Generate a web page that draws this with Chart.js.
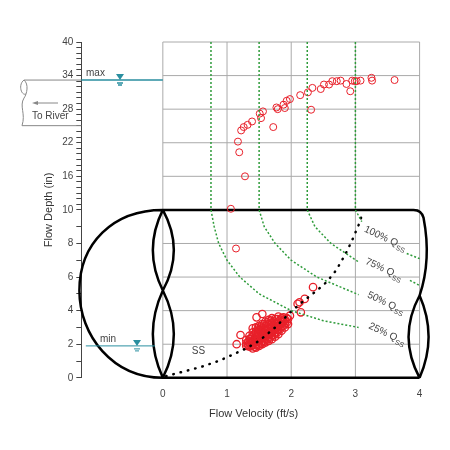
<!DOCTYPE html>
<html>
<head>
<script src="https://cdn.jsdelivr.net/npm/chart.js@4"></script>
<style>body{margin:0;background:#fff}</style>
</head>
<body>
<canvas id="c" width="450" height="450"></canvas>
<script>
// depth axis is split: 0-10 in linear, above 10 compressed by 3
const yMajor = [0, 2, 4, 6, 8, 10, 16, 22, 28, 34, 40];
const xTicks = [0, 1, 2, 3, 4];

// measured points, upper (surcharged) part
const upperV = [1.06, 1.28, 1.19, 1.17, 1.22, 1.26, 1.32, 1.39, 1.51, 1.56, 1.53, 1.72, 1.77, 1.79, 1.88, 1.90, 1.93, 1.98, 2.14, 2.26, 2.33, 2.31, 2.46, 2.51, 2.59, 2.64, 2.71, 2.77, 2.86, 2.92, 2.95, 2.99, 3.02, 3.08, 3.25, 3.26, 3.61, 1.14];
const upperD = [10.2, 16, 20.3, 22.2, 24.2, 24.8, 25.2, 25.8, 27.2, 27.6, 26.4, 24.8, 28.3, 28.0, 28.8, 28.2, 29.5, 29.8, 30.5, 31, 31.8, 27.9, 31.6, 32.4, 32.4, 33, 33, 33.1, 32.5, 31.2, 33.1, 33, 33, 33.1, 33.6, 33.1, 33.2, 7.7];
// measured points, main cluster
const clusterV = [1.15, 1.21, 1.46, 1.55, 2.10, 2.13, 2.15, 2.21, 2.34,
  1.30, 1.30, 1.30, 1.35, 1.35, 1.35, 1.35, 1.40, 1.40, 1.40, 1.40, 1.40, 1.40,
  1.45, 1.45, 1.45, 1.45, 1.45, 1.45, 1.50, 1.50, 1.50, 1.50, 1.50, 1.50,
  1.55, 1.55, 1.55, 1.55, 1.55, 1.55, 1.60, 1.60, 1.60, 1.60, 1.60, 1.60,
  1.65, 1.65, 1.65, 1.65, 1.65, 1.65, 1.70, 1.70, 1.70, 1.70, 1.70, 1.70,
  1.75, 1.75, 1.75, 1.75, 1.75, 1.80, 1.80, 1.80, 1.80, 1.80, 1.85, 1.85, 1.85, 1.85,
  1.90, 1.90, 1.90, 1.95, 1.95, 1.98,
  1.33, 1.33, 1.38, 1.38, 1.38, 1.43, 1.43, 1.43, 1.43, 1.48, 1.48, 1.48, 1.48, 1.48,
  1.53, 1.53, 1.53, 1.53, 1.53, 1.58, 1.58, 1.58, 1.58, 1.58, 1.63, 1.63, 1.63, 1.63, 1.63,
  1.68, 1.68, 1.68, 1.68, 1.68, 1.73, 1.73, 1.73, 1.73, 1.78, 1.78, 1.78, 1.78,
  1.83, 1.83, 1.83, 1.88, 1.88, 1.88, 1.93, 1.93];
const clusterD = [2.0, 2.55, 3.6, 3.8, 4.4, 4.5, 3.9, 4.7, 5.4,
  1.9, 2.05, 2.25, 1.85, 2.05, 2.3, 2.5, 1.75, 1.95, 2.2, 2.45, 2.7, 2.95,
  1.8, 2.0, 2.25, 2.5, 2.75, 3.0, 1.9, 2.1, 2.35, 2.6, 2.85, 3.1,
  2.0, 2.2, 2.45, 2.7, 2.95, 3.2, 2.1, 2.35, 2.6, 2.85, 3.1, 3.35,
  2.2, 2.45, 2.7, 2.95, 3.2, 3.45, 2.3, 2.55, 2.8, 3.05, 3.3, 3.55,
  2.45, 2.7, 2.95, 3.2, 3.5, 2.6, 2.85, 3.1, 3.35, 3.65, 2.8, 3.05, 3.3, 3.55,
  3.0, 3.25, 3.5, 3.2, 3.5, 3.7,
  1.95, 2.15, 1.9, 2.15, 2.4, 1.85, 2.1, 2.35, 2.6, 1.95, 2.2, 2.45, 2.7, 2.95,
  2.05, 2.3, 2.55, 2.8, 3.05, 2.15, 2.4, 2.65, 2.9, 3.2, 2.3, 2.55, 2.8, 3.05, 3.3,
  2.4, 2.65, 2.9, 3.15, 3.4, 2.55, 2.8, 3.05, 3.35, 2.7, 2.95, 3.2, 3.5,
  2.9, 3.15, 3.45, 3.1, 3.35, 3.6, 3.3, 3.55];

// iso-flow lines (fraction of Qss)
const q25 = [[0.75, 40], [0.75, 10], [0.80, 9], [0.87, 8], [1.0, 7], [1.2, 6], [1.5, 5], [2.0, 4], [2.5, 3.4], [3.05, 3.0]];
const q50 = [[1.5, 40], [1.5, 10], [1.58, 9], [1.75, 8], [2.0, 7], [2.4, 6], [3.05, 4.95]];
const q75 = [[2.25, 40], [2.25, 10], [2.37, 9], [2.62, 8], [3.05, 6.9]];
const q75b = [[3.85, 5.8], [4.0, 5.5]];
const q100 = [[3.0, 40], [3.0, 10], [3.1, 9.3]];
const q100b = [[3.8, 7.4], [4.0, 7.1]];
// steady state curve
const ssV = [0.05, 0.3, 0.6, 0.9, 1.1, 1.3, 1.5, 1.75, 2.0, 2.2, 2.4, 2.55, 2.7, 2.85, 2.95, 3.05, 3.12];
const ssD = [0.1, 0.35, 0.65, 1.05, 1.4, 1.75, 2.2, 3.0, 3.95, 4.6, 5.2, 5.7, 6.4, 7.4, 8.2, 9.1, 9.9];
const ssMarkV = [1.42, 1.6, 1.75];
const ssMarkD = [2.35, 2.6, 3.05];

const maxLevel = 33.2, minLevel = 1.9;

const t = d => d <= 10 ? d : 10 + (d - 10) / 3;
const pts = (vs, ds) => vs.map((v, i) => ({x: v, y: t(ds[i])}));
const pairs = a => a.map(p => ({x: p[0], y: t(p[1])}));
const green = '#2e9b3a', teal = '#2a8fa0';
const lineDs = (data) => ({data, showLine: true, borderColor: green, borderWidth: 1.5, borderDash: [2, 2], pointRadius: 0, fill: false});

const minorTicks = [];
for (let d = 0; d <= 10; d++) minorTicks.push(d);
for (let d = 11; d <= 40; d++) minorTicks.push(d);

const decor = {
  id: 'decor',
  beforeDatasetsDraw(chart) {
    const ctx = chart.ctx, xs = chart.scales.x, ys = chart.scales.y;
    const X = v => xs.getPixelForValue(v), Y = d => ys.getPixelForValue(t(d));
    ctx.save();
    // grid
    ctx.strokeStyle = '#aaa'; ctx.lineWidth = 1;
    ctx.beginPath();
    xTicks.forEach(v => { ctx.moveTo(X(v), Y(0)); ctx.lineTo(X(v), Y(40)); });
    yMajor.forEach(d => { ctx.moveTo(X(0), Y(d)); ctx.lineTo(X(4), Y(d)); });
    ctx.stroke();
    // pipe
    ctx.strokeStyle = '#000'; ctx.lineWidth = 2.5;
    const x0 = X(0), x4 = X(4), yt = Y(10), yb = Y(0), ym = Y(5.2), yr = Y(4.9);
    ctx.beginPath();
    ctx.moveTo(x0, yt); ctx.lineTo(x4 - 6, yt);
    ctx.quadraticCurveTo(x4 + 2, yt, x4 + 4, yt + 8);
    ctx.quadraticCurveTo(x4 + 12, yt + 50, x4, yr);
    ctx.moveTo(x0, yb); ctx.lineTo(x4, yb);
    // left dome
    ctx.moveTo(x0, yt);
    ctx.bezierCurveTo(x0 - 50, yt, X(-1.3), Y(8), X(-1.3), ym);
    ctx.bezierCurveTo(X(-1.3), Y(2.5), x0 - 50, yb, x0, yb);
    // lens at x=0
    ctx.moveTo(x0, yt); ctx.quadraticCurveTo(x0 - 20, (yt + ym) / 2, x0, ym);
    ctx.moveTo(x0, yt); ctx.quadraticCurveTo(x0 + 22, (yt + ym) / 2, x0, ym);
    ctx.moveTo(x0, ym); ctx.quadraticCurveTo(x0 - 20, (ym + yb) / 2, x0, yb);
    ctx.moveTo(x0, ym); ctx.quadraticCurveTo(x0 + 22, (ym + yb) / 2, x0, yb);
    // lens at x=4
    ctx.moveTo(x4, yr); ctx.quadraticCurveTo(x4 - 22, (yr + yb) / 2, x4, yb);
    ctx.moveTo(x4, yr); ctx.quadraticCurveTo(x4 + 18, (yr + yb) / 2, x4, yb);
    ctx.stroke();
    // outlet pipe
    const ax = chart.chartArea.left, pt = Y(maxLevel), pb = Y(25.05);
    ctx.strokeStyle = '#888'; ctx.lineWidth = 1;
    ctx.beginPath();
    ctx.moveTo(ax, pt); ctx.lineTo(24, pt);
    ctx.moveTo(ax, pb); ctx.lineTo(22, pb);
    ctx.moveTo(24, pt); ctx.bezierCurveTo(18, pt + 4, 21, pt + 16, 26, pt + 14);
    ctx.moveTo(24, pt); ctx.bezierCurveTo(29, pt + 4, 27, pt + 14, 24, pt + 18);
    ctx.bezierCurveTo(19, pt + 26, 26, pb - 12, 22, pb);
    ctx.moveTo(58, 103); ctx.lineTo(36, 103);
    ctx.stroke();
    ctx.fillStyle = '#888';
    ctx.beginPath(); ctx.moveTo(32, 103); ctx.lineTo(38, 101); ctx.lineTo(38, 105); ctx.fill();
    ctx.fillStyle = '#444'; ctx.font = '10px "Liberation Sans"';
    ctx.textBaseline = 'middle'; ctx.textAlign = 'left';
    ctx.fillText('To River', 32, 116);
    // water levels
    const level = (d, xa, xb, tx, lab, lx) => {
      const yy = Y(d);
      ctx.strokeStyle = teal; ctx.lineWidth = d > 10 ? 1.5 : 1;
      ctx.beginPath(); ctx.moveTo(xa, yy); ctx.lineTo(xb, yy);
      ctx.moveTo(tx - 3, yy + 3); ctx.lineTo(tx + 3, yy + 3);
      ctx.moveTo(tx - 2, yy + 5); ctx.lineTo(tx + 2, yy + 5);
      ctx.stroke();
      ctx.fillStyle = teal;
      ctx.beginPath(); ctx.moveTo(tx - 4, yy - 6); ctx.lineTo(tx + 4, yy - 6); ctx.lineTo(tx, yy); ctx.fill();
      ctx.fillStyle = '#444'; ctx.fillText(lab, lx, yy - 7);
    };
    level(maxLevel, ax, x0, 120, 'max', 86);
    level(minLevel, X(-1.2), X(-0.12), 137, 'min', 100);
    ctx.fillText('SS', X(0.45), Y(1.6));
    // Qss labels
    [['100%', 3.47, 8.3], ['75%', 3.45, 6.45], ['50%', 3.48, 4.45], ['25%', 3.5, 2.6]].forEach(l => {
      ctx.save();
      ctx.translate(X(l[1]), Y(l[2]));
      ctx.rotate(25 * Math.PI / 180);
      ctx.fillStyle = '#444'; ctx.textAlign = 'left';
      ctx.font = '10px "Liberation Sans"';
      const s = l[0] + ' Q', w = ctx.measureText(s).width;
      const tot = w + 10;
      ctx.fillText(s, -tot / 2, 0);
      ctx.font = '7px "Liberation Sans"';
      ctx.fillText('SS', -tot / 2 + w, 4);
      ctx.restore();
    });
    ctx.restore();
  }
};

new Chart(document.getElementById('c'), {
  type: 'scatter',
  data: {
    datasets: [
      lineDs(pairs(q25)), lineDs(pairs(q50)), lineDs(pairs(q75)), lineDs(pairs(q75b)),
      lineDs(pairs(q100)), lineDs(pairs(q100b)),
      {data: pts(ssV, ssD), showLine: true, borderColor: '#000', borderWidth: 2.5, borderDash: [0.5, 7], borderCapStyle: 'round', pointRadius: 0},
      {data: pts(upperV, upperD), borderColor: '#e8202a', backgroundColor: 'rgba(0,0,0,0)', borderWidth: 1, pointRadius: 3.5},
      {data: pts(clusterV, clusterD), borderColor: '#e8202a', backgroundColor: 'rgba(0,0,0,0)', borderWidth: 1.3, pointRadius: 3.7},
      {data: pts(ssMarkV, ssMarkD), pointStyle: 'rectRot', backgroundColor: '#000', borderColor: '#000', pointRadius: 3}
    ]
  },
  options: {
    responsive: false, animation: false,
    layout: {padding: {left: 38, right: 24, top: 42, bottom: 25}},
    plugins: {legend: {display: false}, tooltip: {enabled: false}},
    scales: {
      x: {
        type: 'linear', min: -1.27, max: 4.1,
        afterBuildTicks: s => { s.ticks = xTicks.map(v => ({value: v})); },
        grid: {display: false}, border: {display: false},
        ticks: {color: '#444', font: {family: 'Liberation Sans', size: 10}, padding: 2},
        title: {display: true, text: 'Flow Velocity (ft/s)', color: '#333', font: {family: 'Liberation Sans', size: 11}, padding: {top: 6}}
      },
      y: {
        type: 'linear', min: 0, max: 20,
        afterBuildTicks: s => { s.ticks = minorTicks.map(d => ({value: t(d)})); },
        grid: {drawOnChartArea: false, tickLength: 5, color: '#444'},
        border: {color: '#444', width: 1},
        ticks: {
          color: '#444', font: {family: 'Liberation Sans', size: 10}, autoSkip: false,
          callback: function (val) {
            const d = val <= 10 ? val : 10 + (val - 10) * 3;
            const r = Math.round(d);
            return yMajor.includes(r) && Math.abs(d - r) < 1e-6 ? String(r) : '';
          }
        },
        title: {display: true, text: 'Flow Depth (in)', color: '#333', font: {family: 'Liberation Sans', size: 11}}
      }
    }
  },
  plugins: [decor]
});
</script>
</body>
</html>
